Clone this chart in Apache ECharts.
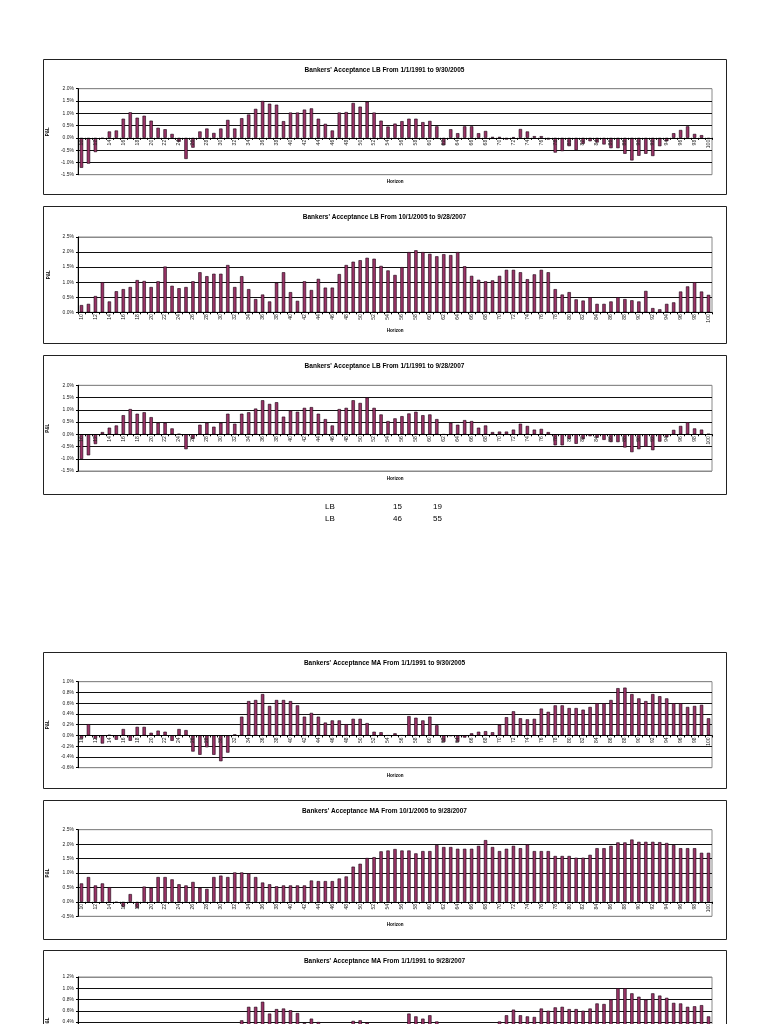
<!DOCTYPE html>
<html>
<head>
<meta charset="utf-8">
<title>Bankers' Acceptance P&L by Horizon</title>
<script src="https://cdn.jsdelivr.net/npm/echarts@6/dist/echarts.min.js"></script>
<style>
  html, body { margin: 0; padding: 0; background: #fff; }
  #page { width: 768px; height: 1024px; }
</style>
</head>
<body>
<div id="page"></div>
<script>
// horizons on the x axis
const horizons = [10, 11, 12, 13, 14, 15, 16, 17, 18, 19, 20, 21, 22, 23, 24, 25, 26, 27, 28, 29,
  30, 31, 32, 33, 34, 35, 36, 37, 38, 39, 40, 41, 42, 43, 44, 45, 46, 47, 48, 49,
  50, 51, 52, 53, 54, 55, 56, 57, 58, 59, 60, 61, 62, 63, 64, 65, 66, 67, 68, 69,
  70, 71, 72, 73, 74, 75, 76, 77, 78, 79, 80, 81, 82, 83, 84, 85, 86, 87, 88, 89,
  90, 91, 92, 93, 94, 95, 96, 97, 98, 99, 100];

// P&L in percent, LB, 1/1/1991 - 9/30/2005
const lbEarly = [-1.22, -1.05, -0.58, -0.03, 0.26, 0.30, 0.78, 1.04, 0.82, 0.90,
  0.70, 0.41, 0.35, 0.16, -0.16, -0.86, -0.40, 0.26, 0.38, 0.20,
  0.38, 0.73, 0.38, 0.80, 0.95, 1.18, 1.50, 1.39, 1.35, 0.68,
  1.03, 1.03, 1.15, 1.20, 0.78, 0.57, 0.30, 1.03, 1.05, 1.42,
  1.27, 1.47, 1.03, 0.70, 0.46, 0.58, 0.68, 0.78, 0.78, 0.64,
  0.69, 0.47, -0.30, 0.35, 0.19, 0.47, 0.47, 0.19, 0.28, 0.04,
  0.04, -0.07, 0.03, 0.36, 0.26, 0.07, 0.07, -0.07, -0.60, -0.54,
  -0.34, -0.50, -0.24, -0.14, -0.19, -0.27, -0.42, -0.42, -0.65, -0.92,
  -0.73, -0.65, -0.74, -0.34, -0.14, 0.19, 0.32, 0.47, 0.16, 0.11, -0.05];

// LB, 10/1/2005 - 9/28/2007
const lbLate = [0.24, 0.28, 0.54, 1.00, 0.36, 0.70, 0.77, 0.84, 1.07, 1.04,
  0.84, 1.03, 1.52, 0.88, 0.80, 0.84, 1.03, 1.33, 1.20, 1.28,
  1.28, 1.57, 0.84, 1.20, 0.77, 0.44, 0.59, 0.36, 0.98, 1.33,
  0.67, 0.38, 1.03, 0.74, 1.11, 0.82, 0.82, 1.27, 1.57, 1.68,
  1.73, 1.81, 1.78, 1.54, 1.39, 1.24, 1.50, 2.00, 2.06, 2.00,
  1.94, 1.86, 1.93, 1.90, 2.00, 1.53, 1.21, 1.08, 1.03, 1.06,
  1.21, 1.41, 1.41, 1.33, 1.10, 1.26, 1.41, 1.33, 0.77, 0.59,
  0.67, 0.43, 0.39, 0.50, 0.28, 0.28, 0.36, 0.50, 0.44, 0.40,
  0.36, 0.71, 0.14, 0.10, 0.28, 0.33, 0.69, 0.86, 1.00, 0.69, 0.58];

// LB, 1/1/1991 - 9/28/2007
const lbAll = [-1.01, -0.86, -0.40, 0.09, 0.27, 0.36, 0.78, 1.03, 0.84, 0.90,
  0.70, 0.47, 0.47, 0.24, 0.01, -0.61, -0.19, 0.39, 0.47, 0.31,
  0.47, 0.84, 0.43, 0.84, 0.90, 1.05, 1.39, 1.24, 1.31, 0.72,
  0.97, 0.92, 1.08, 1.11, 0.84, 0.62, 0.36, 1.03, 1.08, 1.39,
  1.28, 1.50, 1.08, 0.81, 0.54, 0.65, 0.74, 0.85, 0.92, 0.78,
  0.81, 0.62, -0.01, 0.47, 0.39, 0.58, 0.54, 0.27, 0.36, 0.09,
  0.11, 0.11, 0.19, 0.43, 0.34, 0.19, 0.22, 0.09, -0.45, -0.45,
  -0.19, -0.39, -0.20, -0.08, -0.14, -0.23, -0.32, -0.32, -0.54, -0.73,
  -0.61, -0.51, -0.65, -0.30, -0.12, 0.18, 0.34, 0.49, 0.24, 0.19, 0.01];

// MA, 1/1/1991 - 9/30/2005
const maEarly = [-0.06, 0.21, -0.06, -0.15, 0.01, -0.08, 0.12, -0.10, 0.16, 0.16,
  0.05, 0.09, 0.07, -0.10, 0.12, 0.10, -0.30, -0.36, -0.22, -0.36,
  -0.48, -0.32, 0.02, 0.35, 0.64, 0.66, 0.77, 0.55, 0.66, 0.66,
  0.64, 0.56, 0.35, 0.42, 0.35, 0.24, 0.28, 0.28, 0.21, 0.31,
  0.31, 0.23, 0.07, 0.06, 0.00, 0.04, 0.00, 0.36, 0.33, 0.28,
  0.35, 0.19, -0.12, -0.01, -0.12, -0.04, 0.04, 0.07, 0.08, 0.06,
  0.20, 0.34, 0.45, 0.32, 0.30, 0.31, 0.50, 0.44, 0.56, 0.56,
  0.51, 0.51, 0.48, 0.53, 0.60, 0.60, 0.66, 0.88, 0.89, 0.77,
  0.69, 0.64, 0.77, 0.73, 0.69, 0.60, 0.60, 0.53, 0.55, 0.57, 0.32];

// MA, 10/1/2005 - 9/28/2007
const maLate = [0.64, 0.86, 0.57, 0.64, 0.51, -0.02, -0.17, 0.27, -0.21, 0.53,
  0.49, 0.86, 0.86, 0.78, 0.61, 0.57, 0.69, 0.49, 0.45, 0.86,
  0.91, 0.86, 1.02, 1.02, 0.99, 0.86, 0.67, 0.61, 0.54, 0.57,
  0.57, 0.57, 0.57, 0.74, 0.72, 0.72, 0.72, 0.81, 0.88, 1.22,
  1.32, 1.52, 1.55, 1.75, 1.78, 1.83, 1.78, 1.78, 1.68, 1.76,
  1.76, 1.97, 1.90, 1.90, 1.84, 1.84, 1.84, 1.94, 2.14, 1.90,
  1.76, 1.84, 1.94, 1.86, 1.99, 1.76, 1.76, 1.76, 1.59, 1.59,
  1.59, 1.53, 1.53, 1.63, 1.86, 1.86, 1.94, 2.06, 2.06, 2.16,
  2.08, 2.08, 2.08, 2.07, 2.04, 1.97, 1.86, 1.86, 1.86, 1.70, 1.70];

// MA, 1/1/1991 - 9/28/2007 (lower part is cut off in the picture, values estimated)
const maAll = [0.05, 0.30, 0.05, -0.05, 0.10, -0.05, 0.10, -0.05, 0.15, 0.20,
  0.12, 0.20, 0.18, 0.02, 0.20, 0.18, -0.15, -0.20, -0.10, -0.15,
  -0.25, -0.12, 0.15, 0.43, 0.67, 0.67, 0.76, 0.55, 0.63, 0.64,
  0.61, 0.56, 0.38, 0.46, 0.40, 0.33, 0.36, 0.36, 0.32, 0.42,
  0.43, 0.39, 0.22, 0.22, 0.18, 0.22, 0.20, 0.55, 0.50, 0.46,
  0.52, 0.41, 0.08, 0.15, 0.08, 0.14, 0.22, 0.25, 0.28, 0.24,
  0.41, 0.52, 0.62, 0.52, 0.50, 0.49, 0.64, 0.60, 0.66, 0.67,
  0.63, 0.63, 0.60, 0.64, 0.73, 0.72, 0.80, 1.00, 1.00, 0.91,
  0.85, 0.80, 0.91, 0.87, 0.83, 0.74, 0.73, 0.67, 0.68, 0.70, 0.50];

// small summary table between the two groups
const tableRows = [['LB', '15', '19'], ['LB', '46', '55']];

const FONT = "'Liberation Sans', Arial, sans-serif";
const BAR = '#993366';

const panels = [
  { title: "Bankers' Acceptance LB From 1/1/1991 to 9/30/2005", data: lbEarly, min: -1.5, max: 2.0, step: 0.5, boxTop: 59, boxH: 135, top: 88.7, height: 86, horizonY: 182 },
  { title: "Bankers' Acceptance LB From 10/1/2005 to 9/28/2007", data: lbLate, min: 0, max: 2.5, step: 0.5, boxTop: 206, boxH: 137, top: 237, height: 75.3, horizonY: 331 },
  { title: "Bankers' Acceptance LB From 1/1/1991 to 9/28/2007", data: lbAll, min: -1.5, max: 2.0, step: 0.5, boxTop: 355, boxH: 139, top: 385.3, height: 85.7, horizonY: 479 },
  { title: "Bankers' Acceptance MA From 1/1/1991 to 9/30/2005", data: maEarly, min: -0.6, max: 1.0, step: 0.2, boxTop: 652, boxH: 136, top: 681.7, height: 86, horizonY: 776 },
  { title: "Bankers' Acceptance MA From 10/1/2005 to 9/28/2007", data: maLate, min: -0.5, max: 2.5, step: 0.5, boxTop: 800, boxH: 139, top: 829.7, height: 86.6, horizonY: 925 },
  { title: "Bankers' Acceptance MA From 1/1/1991 to 9/28/2007", data: maAll, min: -0.4, max: 1.2, step: 0.2, boxTop: 950, boxH: 140, top: 977, height: 90, horizonY: 1076 }
];

const BOX_LEFT = 43, BOX_W = 683;
const PLOT_LEFT = 78, PLOT_W = 634;

const chart = echarts.init(document.getElementById('page'), null, { renderer: 'canvas' });

const grids = [], xAxes = [], yAxes = [], series = [], titles = [], graphics = [];

panels.forEach((p, i) => {
  const n = Math.round((p.max - p.min) / p.step) + 1;
  // outer gridlines follow the grey plot border, inner ones are black
  const lineColors = [];
  for (let k = 0; k < n; k++) lineColors.push(k === 0 || k === n - 1 ? '#8a8a8a' : '#111');
  // the category axis sits on the 0% line (Excel style), labels follow it
  const zeroLift = p.min < 0 ? (-p.min) / (p.max - p.min) * p.height : 0;

  grids.push({
    left: PLOT_LEFT, width: PLOT_W, top: p.top, height: p.height,
    containLabel: false, outerBoundsMode: 'none',
    show: true, borderColor: '#8a8a8a', borderWidth: 1, backgroundColor: '#fff'
  });
  xAxes.push({
    gridIndex: i, type: 'category', data: horizons, position: 'bottom', offset: -zeroLift,
    z: 5,
    axisLine: { show: true, onZero: false, lineStyle: { color: '#000', width: 1 } },
    axisTick: { show: true, interval: 0, length: 2, lineStyle: { color: '#000' } },
    axisLabel: { interval: 1, rotate: 90, fontSize: 5, color: '#222', margin: 2, fontFamily: FONT, hideOverlap: false },
    splitLine: { show: false }
  });
  yAxes.push({
    gridIndex: i, type: 'value', min: p.min, max: p.max, interval: p.step,
    name: 'P&L', nameLocation: 'middle', nameRotate: 90, nameGap: 19,
    nameTextStyle: { fontSize: 4.5, fontWeight: 'bold', color: '#000', fontFamily: FONT },
    axisLine: { show: true, onZero: false, lineStyle: { color: '#000', width: 1 } },
    axisTick: { show: true, length: 2, lineStyle: { color: '#000' } },
    axisLabel: { fontSize: 5, color: '#222', margin: 4, fontFamily: FONT,
      formatter: v => v.toFixed(1) + '%' },
    splitLine: { show: true, lineStyle: { color: lineColors, width: 1 } }
  });
  series.push({
    type: 'bar', xAxisIndex: i, yAxisIndex: i, data: p.data,
    barWidth: '48%',
    itemStyle: { color: BAR, borderColor: '#1a0010', borderWidth: 0.6 },
    silent: true
  });
  titles.push({
    text: p.title, left: BOX_LEFT + BOX_W / 2, top: p.boxTop + 8, textAlign: 'center', padding: 0,
    textStyle: { fontSize: 6.5, fontWeight: 'bold', color: '#000', fontFamily: FONT }
  });
  graphics.push({
    type: 'rect', z: -1, silent: true,
    shape: { x: BOX_LEFT + 0.5, y: p.boxTop + 0.5, width: BOX_W, height: p.boxH },
    style: { fill: '#fff', stroke: '#222', lineWidth: 1 }
  });
  graphics.push({
    type: 'text', silent: true, x: PLOT_LEFT + PLOT_W / 2, y: p.horizonY,
    style: { text: 'Horizon', fontSize: 4.5, fontWeight: 'bold', fill: '#000', fontFamily: FONT,
      align: 'center', verticalAlign: 'middle' }
  });
});

// summary table text
const tableCols = [325, 393, 433];
tableRows.forEach((row, r) => {
  row.forEach((cell, c) => {
    graphics.push({
      type: 'text', silent: true, x: tableCols[c], y: 507 + r * 12,
      style: { text: cell, fontSize: 8, fill: '#000', fontFamily: FONT, align: 'left', verticalAlign: 'middle' }
    });
  });
});

chart.setOption({
  animation: false,
  backgroundColor: '#fff',
  title: titles,
  grid: grids,
  xAxis: xAxes,
  yAxis: yAxes,
  series: series,
  graphic: graphics
});
</script>
</body>
</html>
